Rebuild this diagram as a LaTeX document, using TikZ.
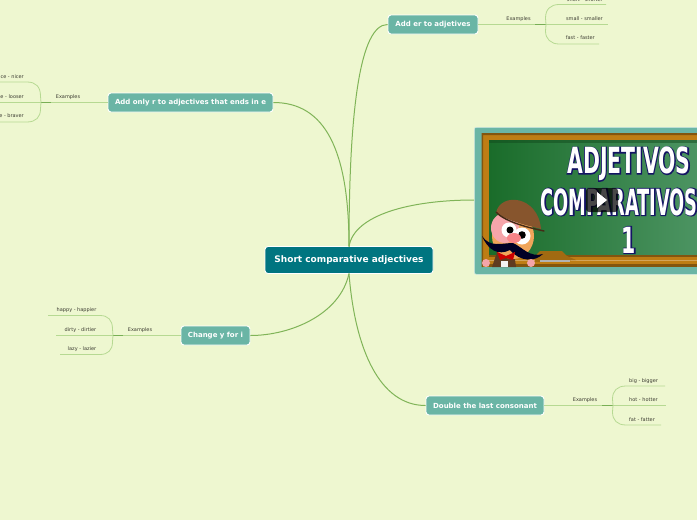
\documentclass[tikz,border=0pt]{standalone}
\usepackage{fontspec}
\setmainfont{DejaVu Sans}
\newfontfamily\boardfont{DejaVu Sans Condensed Bold}[FakeStretch=0.63]
\newfontfamily\boardline{DejaVu Sans Condensed Bold}[FakeStretch=0.63,FakeBold=5]
\newfontfamily\boardfontn{DejaVu Sans Condensed Bold}[FakeStretch=0.55]
\newfontfamily\boardlinen{DejaVu Sans Condensed Bold}[FakeStretch=0.55,FakeBold=5]
\definecolor{bgc}{RGB}{238,247,208}
\definecolor{rootc}{RGB}{0,117,128}
\definecolor{topicc}{RGB}{106,181,165}
\definecolor{mainl}{RGB}{128,180,88}
\definecolor{subl}{RGB}{182,217,146}
\definecolor{midl}{RGB}{120,175,85}
\definecolor{txtc}{RGB}{60,60,50}
\definecolor{woodc}{RGB}{190,125,20}
\definecolor{woodd}{RGB}{130,85,15}
\definecolor{navyc}{RGB}{20,20,100}
\definecolor{hatc}{RGB}{135,85,45}
\definecolor{boardl}{RGB}{26,108,42}
\definecolor{boardr}{RGB}{76,148,98}
\definecolor{skinc}{RGB}{240,165,90}
\definecolor{pinkc}{RGB}{245,165,170}
\tikzset{
  rootbox/.style={draw=white,line width=0.9pt,rounded corners=3pt,fill=rootc,text=white,font=\fontsize{9}{10}\selectfont\bfseries,minimum height=27pt,inner sep=0pt},
  topicbox/.style={draw=white,line width=0.9pt,rounded corners=3pt,fill=topicc,text=white,font=\fontsize{7}{8}\selectfont\bfseries,minimum height=19pt,inner sep=0pt},
  leaftext/.style={text=txtc,font=\fontsize{5}{6}\selectfont,inner sep=0pt},
  mainlink/.style={draw=mainl,line width=1pt},
  sublink/.style={draw=subl,line width=0.8pt},
  midlink/.style={draw=midl,line width=0.9pt},
  boardtxt/.style={text=white,inner sep=0pt,font=\fontsize{36}{36}\boardfont},
  boardout/.style={text=navyc,inner sep=0pt,font=\fontsize{36}{36}\boardline},
  boardtxtn/.style={text=white,inner sep=0pt,font=\fontsize{36}{36}\boardfontn},
  boardoutn/.style={text=navyc,inner sep=0pt,font=\fontsize{36}{36}\boardlinen}
}
\begin{document}
\begin{tikzpicture}[x=1pt,y=-1pt]
\useasboundingbox (0,0) rectangle (697,520);
\clip (0,0) rectangle (697,520);
\fill[bgc] (0,0) rectangle (697,520);

% nodes
\node[rootbox,minimum width=168pt] (root) at (349,260) {Short comparative adjectives};
\node[topicbox,minimum width=90pt] (er) at (433,24.5) {Add er to adjetives};
\node[topicbox,minimum width=165pt] (onlyr) at (190.5,102.5) {Add only r to adjectives that ends in e};
\node[topicbox,minimum width=69pt] (ychange) at (215.5,335.5) {Change y for i};
\node[topicbox,minimum width=118pt] (dbl) at (485,405.5) {Double the last consonant};

% image frame
\node[draw=white!70!topicc,line width=0.6pt,rounded corners=2pt,fill=topicc,minimum width=240pt,minimum height=147pt,anchor=north west,inner sep=0pt] (img) at (474,127) {};

% main links
\coordinate (rt) at (349,246.5);
\coordinate (rb) at (349,273.5);
\coordinate (imgin) at (474,200);
\draw[mainlink] (rt) .. controls (349,110) and (360,24.5) .. (er.west);
\draw[mainlink] (rt) .. controls (349,150) and (325,102.5) .. (onlyr.east);
\draw[mainlink] (rt) .. controls (354,215) and (410,200) .. (imgin);
\draw[mainlink] (rb) .. controls (340,315) and (290,335.5) .. (ychange.east);
\draw[mainlink] (rb) .. controls (355,350) and (380,405.5) .. (dbl.west);

% Add er branch
\coordinate (e0) at (535,24.5);
\coordinate (e1) at (546,24.5);
\coordinate (eT) at (606,4.5);
\coordinate (eM) at (608,24.5);
\coordinate (eB) at (599,44);
\draw[sublink] (er.east) -- (e0);
\draw[midlink] (e0) -- (e1);
\draw[sublink] (e1) -- (eM);
\draw[sublink] (e1) -- (545.5,18) .. controls (545.5,9) and (551,4.5) .. (559,4.5) -- (eT);
\draw[sublink] (e1) -- (545.5,31) .. controls (545.5,39) and (551,44) .. (559,44) -- (eB);
\node[leaftext] (eL) at (518.5,19) {Examples};
\node[leaftext,anchor=east] (e2) at (603,-0.5) {short - shorter};
\node[leaftext,anchor=east] (e3) at (603,19) {small - smaller};
\node[leaftext,anchor=east] (e4) at (595,38) {fast - faster};

% Add only r branch
\coordinate (o0) at (51,102.5);
\coordinate (o1) at (41,102.5);
\coordinate (oT) at (0,82);
\coordinate (oM) at (0,102.5);
\coordinate (oB) at (0,122);
\draw[sublink] (onlyr.west) -- (o0);
\draw[midlink] (o0) -- (o1);
\draw[sublink] (o1) -- (oM);
\draw[sublink] (o1) -- (40.5,96) .. controls (40.5,87) and (36,82) .. (27,82) -- (oT);
\draw[sublink] (o1) -- (40.5,109) .. controls (40.5,117) and (36,122) .. (27,122) -- (oB);
\node[leaftext] (oL) at (68,97) {Examples};
\node[leaftext,anchor=east] (o2) at (24,77) {nice - nicer};
\node[leaftext,anchor=east] (o3) at (24,97) {loose - looser};
\node[leaftext,anchor=east] (o4) at (24,116) {brave - braver};

% Change y branch
\coordinate (y0) at (123,335.5);
\coordinate (y1) at (113,335.5);
\coordinate (yT) at (48,315.5);
\coordinate (yM) at (56,335.5);
\coordinate (yB) at (60,354.5);
\draw[sublink] (ychange.west) -- (y0);
\draw[midlink] (y0) -- (y1);
\draw[sublink] (y1) -- (yM);
\draw[sublink] (y1) -- (112.5,329) .. controls (112.5,320) and (108,315.5) .. (100,315.5) -- (yT);
\draw[sublink] (y1) -- (112.5,342) .. controls (112.5,350) and (108,354.5) .. (100,354.5) -- (yB);
\node[leaftext] (yL) at (140,330) {Examples};
\node[leaftext,anchor=east] (y2) at (96.5,310) {happy - happier};
\node[leaftext,anchor=east] (y3) at (96.5,330) {dirty - dirtier};
\node[leaftext,anchor=east] (y4) at (96.5,349) {lazy - lazier};

% Double branch
\coordinate (d0) at (602,405.5);
\coordinate (d1) at (613,405.5);
\coordinate (dT) at (665,386);
\coordinate (dM) at (666,405.5);
\coordinate (dB) at (661,425);
\draw[sublink] (dbl.east) -- (d0);
\draw[midlink] (d0) -- (d1);
\draw[sublink] (d1) -- (dM);
\draw[sublink] (d1) -- (612.5,399) .. controls (612.5,391) and (617,386) .. (626,386) -- (dT);
\draw[sublink] (d1) -- (612.5,412) .. controls (612.5,420) and (617,425) .. (626,425) -- (dB);
\node[leaftext] (dL) at (585,400) {Examples};
\node[leaftext,anchor=west] (d2) at (629,381) {big - bigger};
\node[leaftext,anchor=west] (d3) at (629,400) {hot - hotter};
\node[leaftext,anchor=west] (d4) at (629,420) {fat - fatter};

% video picture
\fill[woodc] (481.5,133) rectangle (697,267);
\fill[woodd] (481.5,133) -- (697,133) -- (697,135) -- (483,135) -- (483,267) -- (481.5,267) -- cycle;
\shade[left color=boardl,right color=boardr] (489,140) rectangle (697,255);
\fill[boardl!70!black,opacity=0.5] (489,140) rectangle (697,143);
\fill[woodd] (489,255) rectangle (697,256.5);
\fill[woodc!70!white] (489,260) rectangle (697,261);
\fill[woodd] (489,264) rectangle (697,267);

% title on the board
\node[boardout] at (629,164) {ADJETIVOS};
\node[boardtxt] at (629,164) {ADJETIVOS};
\node[boardoutn,anchor=east] at (698,202) {COMPARATIVOS};
\node[boardtxtn,anchor=east] at (698,202) {COMPARATIVOS};
\node[boardout] at (629,240) {1};
\node[boardtxt] at (629,240) {1};

% play button
\fill[black,opacity=0.72,rounded corners=3pt] (586,188) rectangle (618,212);
\fill[white] (597,192) -- (607,200) -- (597,208) -- cycle;

% chalk tray
\fill[woodc!85!black] (535,256) -- (540,251) -- (562,251) -- (567,256) -- (576,260) -- (535,262) -- cycle;
\fill[gray!60] (540,260) rectangle (570,262);

% character
\fill[hatc!70!black] (492,267) -- (497,252) -- (514,252) -- (516,267) -- cycle;
\fill[skinc] (513,236) ellipse (21pt and 23pt);
\fill[pinkc] (505,228) ellipse (14pt and 15pt);
\fill[hatc] (496,213) .. controls (500,192) and (538,195) .. (541,229) .. controls (530,226) and (510,222) .. (496,213) -- cycle;
\draw[hatc!50!black,line width=1.4pt,line cap=round] (496,212) .. controls (505,222) and (530,228) .. (544,231);
\fill[white] (509,230) circle (7.5pt);
\fill[white] (522,236) circle (8.5pt);
\fill[black] (510,230) circle (3.5pt);
\fill[black] (522,235) circle (3.8pt);
\fill[pinkc!80!red] (514,238) ellipse (7pt and 5pt);
\fill[black!85!blue] (482,236) .. controls (490,248) and (502,243) .. (513,243) .. controls (522,247) and (530,258) .. (543,254) .. controls (535,262) and (520,262) .. (510,250) .. controls (498,256) and (488,250) .. (482,236) -- cycle;
\fill[red!80!black] (497,252) -- (506,256) -- (515,252) -- (513,260) -- (506,258) -- (500,260) -- cycle;
\fill[white!90!gray] (501,261) rectangle (508,267);
\fill[pinkc] (486,263) circle (4pt);
\fill[pinkc] (531,263) circle (4pt);
\end{tikzpicture}
\end{document}
